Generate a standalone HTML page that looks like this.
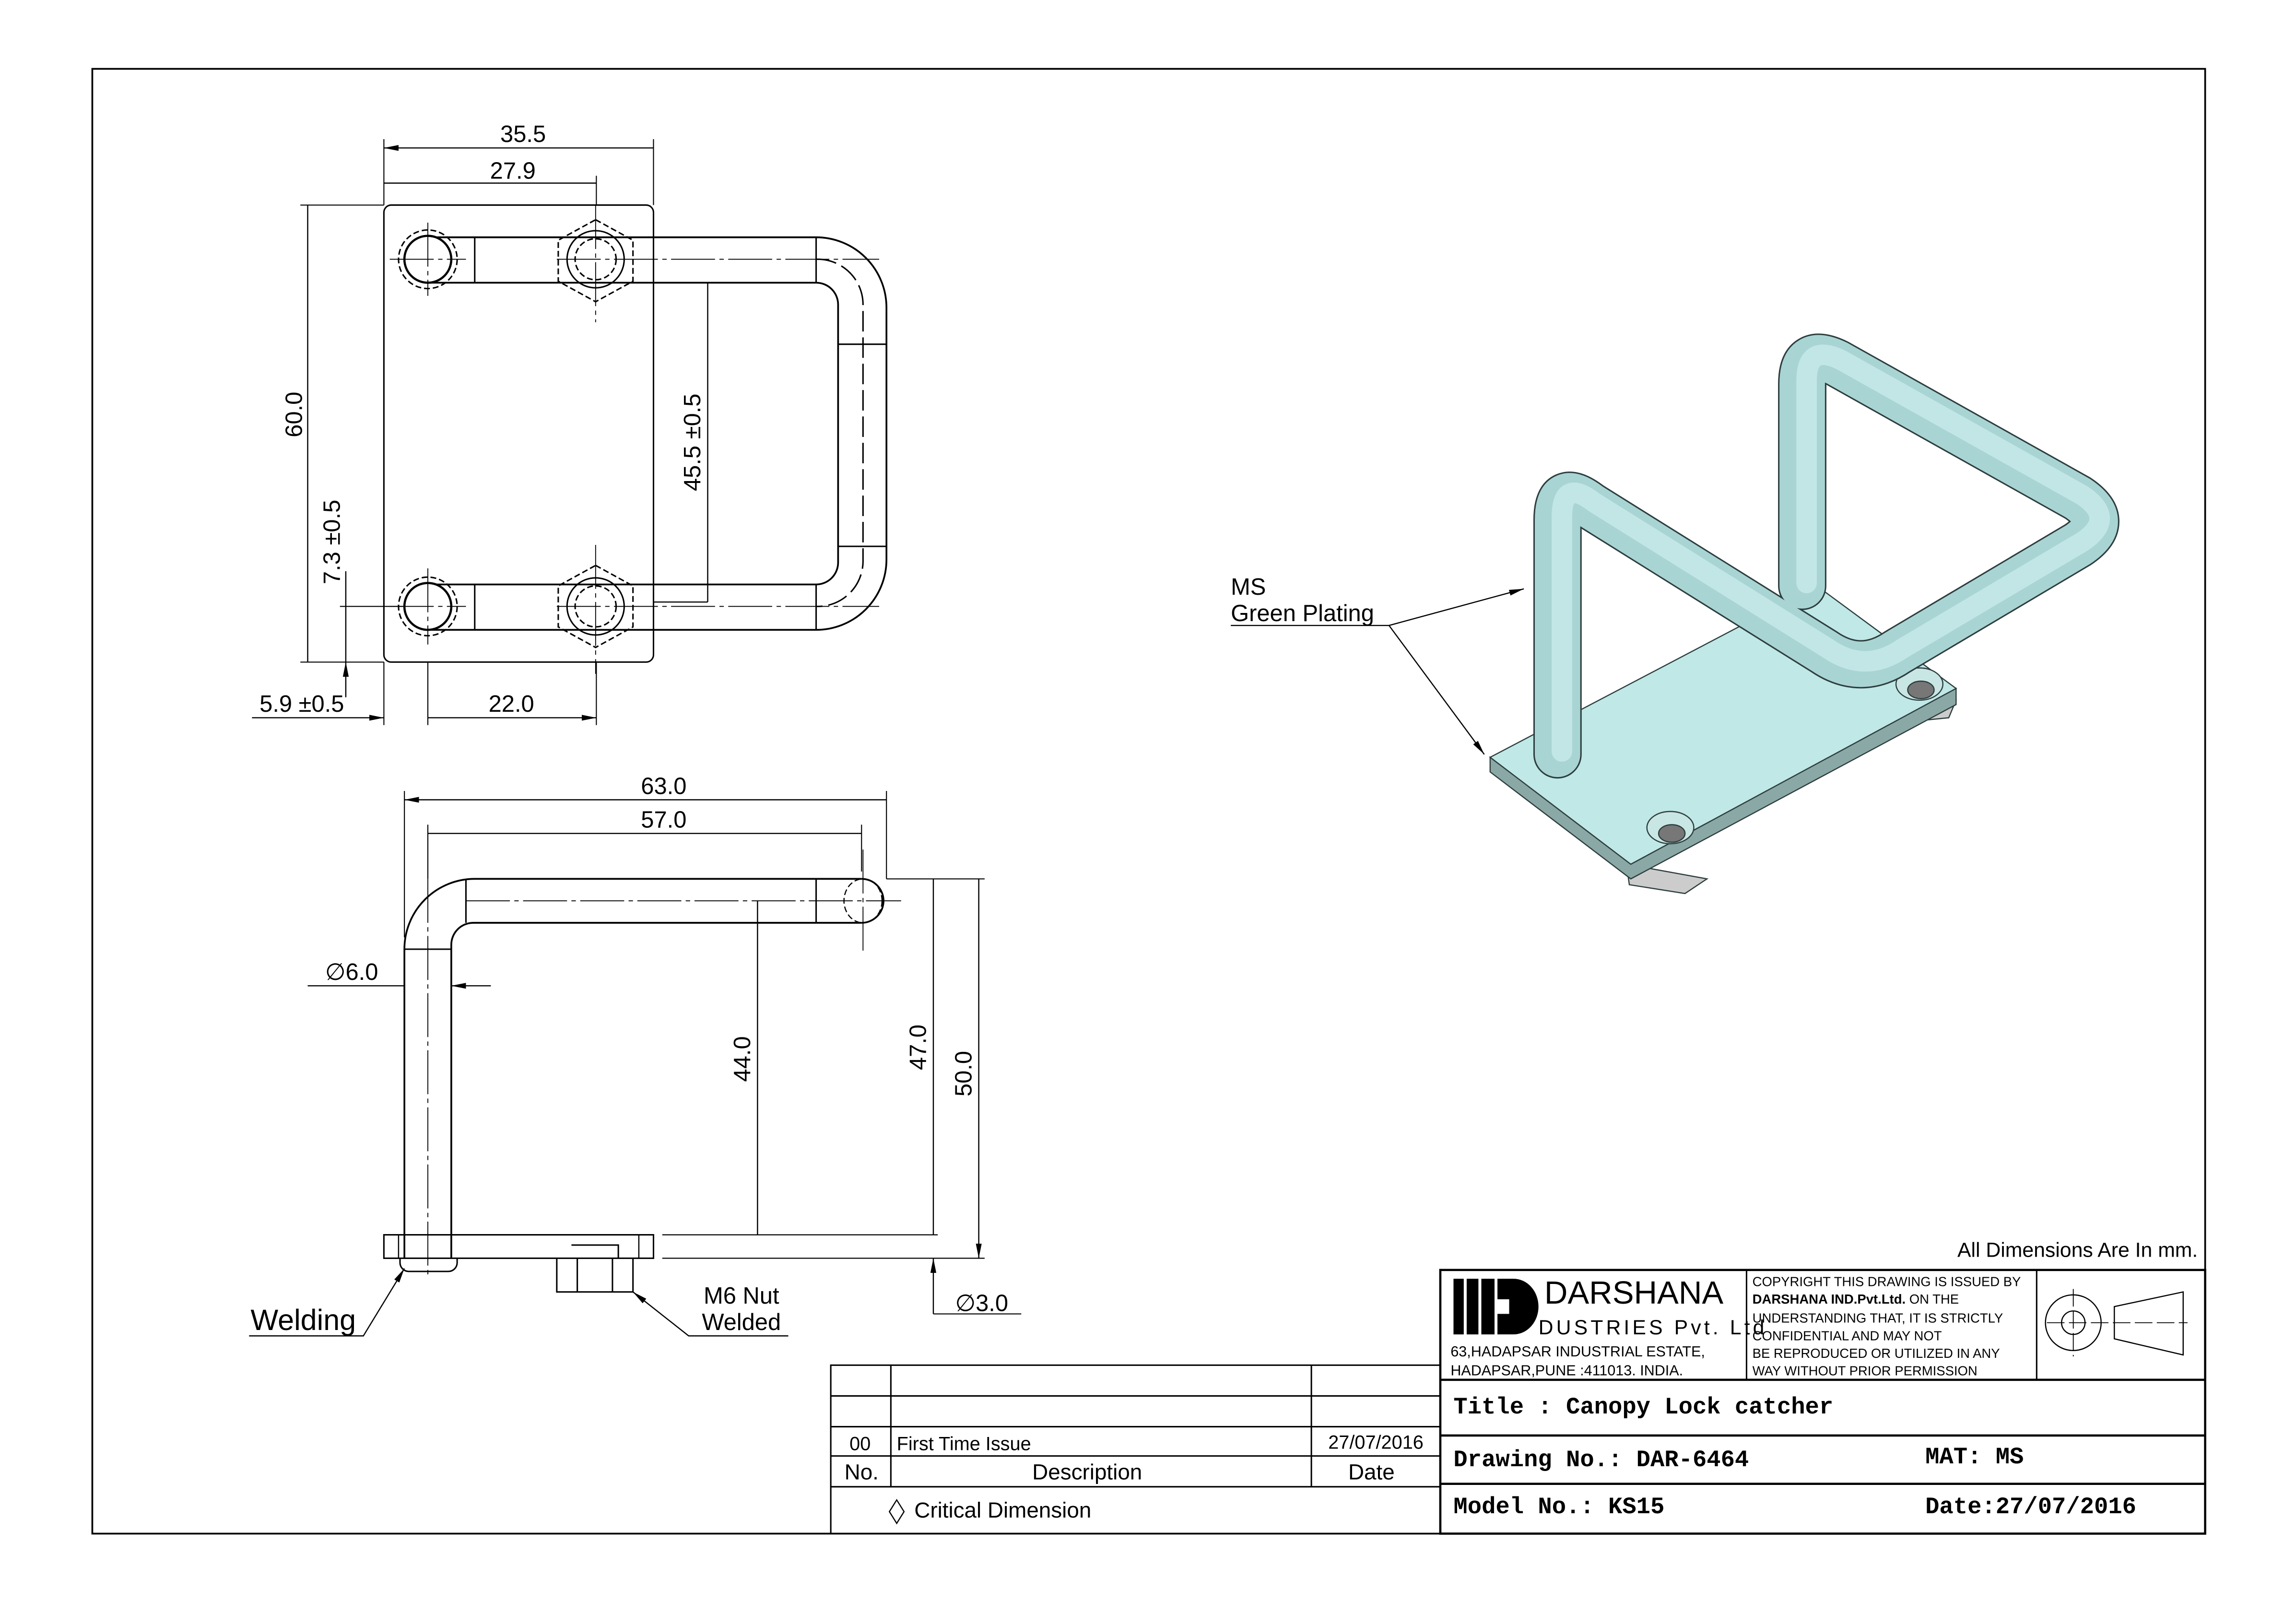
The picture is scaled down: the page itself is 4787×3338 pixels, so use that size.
<!DOCTYPE html>
<html><head><meta charset="utf-8"><style>
html,body{margin:0;padding:0;background:#fff;}
svg{display:block;}
text{font-family:"Liberation Sans",sans-serif;fill:#000;}
.m{font-family:"Liberation Mono",monospace;font-weight:bold;}
</style></head><body>
<svg width="4787" height="3338" viewBox="0 0 1567 1093" preserveAspectRatio="none" xmlns="http://www.w3.org/2000/svg">
<defs>
<marker id="a" viewBox="0 0 10 4" refX="10" refY="2" markerWidth="10" markerHeight="4" markerUnits="userSpaceOnUse" orient="auto-start-reverse"><path d="M0,0L10,2L0,4z" fill="#000"/></marker>
</defs>
<rect width="1567" height="1093" fill="#fff"/>
<rect x="63" y="47" width="1442" height="1000" fill="none" stroke="#000" stroke-width="1.2"/>

<!-- TOP VIEW -->
<g fill="none" stroke="#000" stroke-width="1">
<rect x="262" y="140" width="184" height="312" rx="5"/>
<path d="M292,162 H557 A48,48 0 0 1 605,210 V382 A48,48 0 0 1 557,430 H292" stroke-width="1.2"/>
<path d="M292,193 H557 A15,15 0 0 1 572,208 V384 A15,15 0 0 1 557,399 H292" stroke-width="1.2"/>
<path d="M324,162V193M324,399V430M557,162V193M557,399V430M572,235H605M572,373H605"/>
<circle cx="292" cy="177" r="20" stroke-dasharray="4,2"/>
<circle cx="292" cy="414" r="20" stroke-dasharray="4,2"/>
<circle cx="292" cy="177" r="16" stroke-width="1.5" fill="#fff"/>
<circle cx="292" cy="414" r="16" stroke-width="1.5" fill="#fff"/>
<polygon points="406.5,150 432,164 432,192 406.5,206 381,192 381,164" stroke-dasharray="4,2"/>
<polygon points="406.5,386 432,400 432,428 406.5,442 381,428 381,400" stroke-dasharray="4,2"/>
<circle cx="406.5" cy="177" r="19.5"/><circle cx="406.5" cy="177" r="14" stroke-dasharray="4,2"/>
<circle cx="406.5" cy="414" r="19.5"/><circle cx="406.5" cy="414" r="14" stroke-dasharray="4,2"/>
<path d="M266,177H318M292,152V202M380,177H600M406.5,140V220M266,414H318M292,388V440M380,414H600M406.5,372V460" stroke-width="0.6" stroke-dasharray="30,3,3,3"/>
<path d="M557,177 A31,31 0 0 1 589,208 V382 A31,31 0 0 1 557,414" stroke-dasharray="14,4"/>
<!-- dims -->
<path d="M262,95V140M446,95V140M407,120V140M205,140H262M205,452H262M232,414H275M262,452V495M292,452V495M407,452V495" stroke-width="0.7"/>
<path d="M262,101H446M262,125H407M210,140V452M483,193V411M292,490H407" stroke-width="0.8" marker-start="url(#a)" marker-end="url(#a)"/>
<path d="M236,390V414M236,476V452" stroke-width="0.8" marker-end="url(#a)"/>
<path d="M236,414V452M483,193H446M483,411H446" stroke-width="0.8"/>
<path d="M172,490H262" stroke-width="0.8" marker-end="url(#a)"/>
</g>
<text x="357" y="97" font-size="16" text-anchor="middle">35.5</text>
<text x="350" y="122" font-size="16" text-anchor="middle">27.9</text>
<text transform="translate(206,283) rotate(-90)" font-size="16" text-anchor="middle">60.0</text>
<text transform="translate(232,370) rotate(-90)" font-size="16" text-anchor="middle">7.3 ±0.5</text>
<text transform="translate(478,302) rotate(-90)" font-size="16" text-anchor="middle">45.5 ±0.5</text>
<text x="206" y="486" font-size="16" text-anchor="middle">5.9 ±0.5</text>
<text x="349" y="486" font-size="16" text-anchor="middle">22.0</text>

<!-- SIDE VIEW -->
<g fill="none" stroke="#000" stroke-width="1.2">
<path d="M276,859 V648 A48,48 0 0 1 324,600 H588"/>
<path d="M308,859 V645 A15,15 0 0 1 323,630 H588"/>
<path d="M588,600 A15,15 0 0 1 588,630" />
<path d="M276,648H308M318,600V630M557,600V630" stroke-width="1"/>
<ellipse cx="589" cy="615" rx="13" ry="15" stroke-width="0.8" stroke-dasharray="4,2"/>
<rect x="262" y="843" width="184" height="16" stroke-width="1"/>
<path d="M272,843V859M436,843V859" stroke-width="0.8"/>
<path d="M273,859 V862 A6,6 0 0 0 279,868 H306 A6,6 0 0 0 312,862 V859" stroke-width="1"/>
<path d="M380,859 V882 H432 V859 M394,859V882M418,859V882M390,850H422V859" stroke-width="1"/>
<path d="M292,600V870M318,615H600M589,580V650M600,615H615" stroke-width="0.6" stroke-dasharray="30,3,3,3"/>
<!-- dims -->
<path d="M276,540V640M292,563V600M588,563V595M605,540V600M605,600H672M452,843H640M452,859H672M637,897H697" stroke-width="0.7"/>
<path d="M276,546H605M292,569H588M517,615V843M637,600V843M668,600V859" stroke-width="0.8" marker-start="url(#a)" marker-end="url(#a)"/>
<path d="M210,673H276M335,673H308" stroke-width="0.8" marker-end="url(#a)"/>
<path d="M637,897V859" stroke-width="0.8" marker-end="url(#a)"/>
<path d="M170,912H248L276,866" stroke-width="0.8" marker-end="url(#a)"/>
<path d="M538,912H470L432,882" stroke-width="0.8" marker-end="url(#a)"/>
</g>
<text x="240" y="669" font-size="16" text-anchor="middle">∅6.0</text>
<text x="453" y="542" font-size="16" text-anchor="middle">63.0</text>
<text x="453" y="565" font-size="16" text-anchor="middle">57.0</text>
<text transform="translate(512,723) rotate(-90)" font-size="16" text-anchor="middle">44.0</text>
<text transform="translate(632,715) rotate(-90)" font-size="16" text-anchor="middle">47.0</text>
<text transform="translate(663,733) rotate(-90)" font-size="16" text-anchor="middle">50.0</text>
<text x="670" y="895" font-size="16" text-anchor="middle">∅3.0</text>
<text x="207" y="908" font-size="20" text-anchor="middle">Welding</text>
<text x="506" y="890" font-size="16" text-anchor="middle">M6 Nut</text>
<text x="506" y="908" font-size="16" text-anchor="middle">Welded</text>

<!-- ISOMETRIC -->
<g stroke="#2d3d3d" stroke-width="0.8">
<path d="M1110,590 L1112,604 L1150,610 L1165,600Z" fill="#ccc"/>
<path d="M1305,478 L1310,492 L1330,490 L1335,478Z" fill="#ccc"/>
<polygon points="1017,517 1017,527 1113,600 1335,481 1335,470 1113,590" fill="#8aa8a6"/>
<polygon points="1017,517 1240,400 1335,470 1113,590" fill="#bfe8e6"/>
<ellipse cx="1140" cy="565" rx="16" ry="11" fill="#c8e6e4"/>
<ellipse cx="1141" cy="569" rx="9" ry="6" fill="#777"/>
<ellipse cx="1310" cy="467" rx="16" ry="11" fill="#c8e6e4"/>
<ellipse cx="1311" cy="471" rx="9" ry="6" fill="#777"/>
</g>
<g fill="none" stroke-linecap="round" stroke-linejoin="round">
<path id="t" d="M1230,400 V262 Q1230,236 1254,248 L1418,340 Q1442,356 1418,372 L1295,445 Q1270,462 1245,445 L1085,345 Q1063,328 1063,355 V515" stroke="#2d3d3d" stroke-width="33"/>
<path d="M1230,400 V262 Q1230,236 1254,248 L1418,340 Q1442,356 1418,372 L1295,445 Q1270,462 1245,445 L1085,345 Q1063,328 1063,355 V515" stroke="#a9d4d4" stroke-width="31"/>
<path d="M1230,400 V262 Q1230,236 1254,248 L1418,340 Q1442,356 1418,372 L1295,445 Q1270,462 1245,445 L1085,345 Q1063,328 1063,355 V515" stroke="#c2e6e6" stroke-width="14" transform="translate(3,-2)"/>
</g>
<g fill="none" stroke="#000" stroke-width="0.8">
<path d="M840,427H948L1013,515" marker-end="url(#a)"/>
<path d="M948,427L1040,402" marker-end="url(#a)"/>
</g>
<text x="840" y="406" font-size="16">MS</text>
<text x="840" y="424" font-size="16">Green Plating</text>

<!-- TITLE BLOCK -->
<text x="1500" y="858" font-size="14" text-anchor="end">All Dimensions Are In mm.</text>
<g fill="none" stroke="#000">
<rect x="983" y="867" width="522" height="180" stroke-width="1.5"/>
<path d="M983,942H1505M983,980H1505M983,1013H1505" stroke-width="1.5"/>
<path d="M1192,867V942M1390,867V942" stroke-width="1"/>
<rect x="567" y="932" width="416" height="115" stroke-width="1"/>
<path d="M567,953H983M567,974H983M567,994H983M567,1015H983M608,932V1015M895,932V1015" stroke-width="1"/>
<circle cx="1415" cy="903" r="19" stroke-width="0.8"/><circle cx="1415" cy="903" r="8" stroke-width="0.8"/>
<path d="M1397,903H1493M1415,880V926" stroke-width="0.6" stroke-dasharray="12,3"/>
<path d="M1443,892L1490,882V925L1443,914Z" stroke-width="0.8"/>
<path d="M607,1032L612,1024L617,1032L612,1040Z" stroke-width="0.8"/>
</g>
<g fill="#000">
<rect x="992" y="873" width="7" height="38"/><rect x="1001" y="873" width="8" height="38"/><rect x="1011" y="873" width="9" height="38"/>
<path d="M1022,873H1033A17,19 0 0 1 1033,911H1022V897H1030V887H1022Z"/>
</g>
<text x="1054" y="890" font-size="22">DARSHANA</text>
<text x="1050" y="911" font-size="14" letter-spacing="2">DUSTRIES Pvt. Ltd</text>
<text x="990" y="926" font-size="10">63,HADAPSAR INDUSTRIAL ESTATE,</text>
<text x="990" y="939" font-size="10">HADAPSAR,PUNE :411013. INDIA.</text>
<g font-size="9">
<text x="1196" y="878">COPYRIGHT THIS DRAWING IS ISSUED BY</text>
<text x="1196" y="890"><tspan font-weight="bold">DARSHANA IND.Pvt.Ltd.</tspan> ON THE</text>
<text x="1196" y="903">UNDERSTANDING THAT, IT IS STRICTLY</text>
<text x="1196" y="915">CONFIDENTIAL AND MAY NOT</text>
<text x="1196" y="927">BE REPRODUCED OR UTILIZED IN ANY</text>
<text x="1196" y="939">WAY WITHOUT PRIOR PERMISSION</text>
</g>
<text class="m" x="992" y="965" font-size="16">Title : Canopy Lock catcher</text>
<text class="m" x="992" y="1001" font-size="16">Drawing No.: DAR-6464</text>
<text class="m" x="1314" y="999" font-size="16">MAT: MS</text>
<text class="m" x="992" y="1033" font-size="16">Model No.: KS15</text>
<text class="m" x="1314" y="1033" font-size="16">Date:27/07/2016</text>
<text x="587" y="990" font-size="13" text-anchor="middle">00</text>
<text x="612" y="990" font-size="13">First Time Issue</text>
<text x="939" y="989" font-size="13" text-anchor="middle">27/07/2016</text>
<text x="588" y="1010" font-size="15" text-anchor="middle">No.</text>
<text x="742" y="1010" font-size="15" text-anchor="middle">Description</text>
<text x="936" y="1010" font-size="15" text-anchor="middle">Date</text>
<text x="624" y="1036" font-size="15">Critical Dimension</text>
</svg>
</body></html>
